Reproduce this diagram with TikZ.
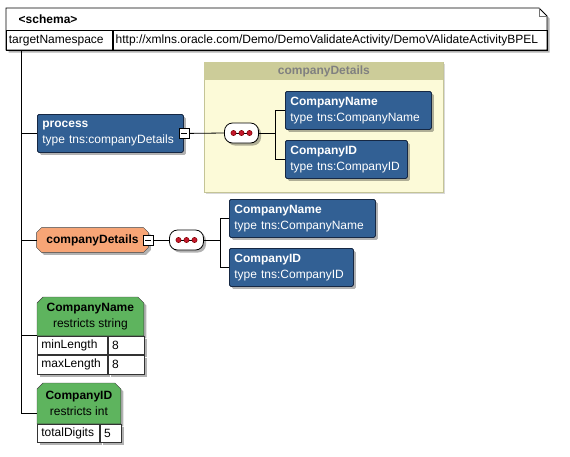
\documentclass[tikz,border=0pt]{standalone}
\usepackage{fontspec}
\setmainfont{Liberation Sans}
\usetikzlibrary{shapes, shadows, positioning, calc}

\definecolor{elemfill}{RGB}{50,96,148}
\definecolor{elemline}{RGB}{22,40,68}
\definecolor{cplxfill}{RGB}{247,165,118}
\definecolor{simpfill}{RGB}{94,180,94}
\definecolor{grpfill}{RGB}{252,250,216}
\definecolor{grphead}{RGB}{204,204,153}
\definecolor{grpline}{RGB}{196,196,150}
\definecolor{dotred}{RGB}{196,24,44}

\pgfdeclarelayer{bg}
\pgfsetlayers{bg,main}

\newcommand\dgfont{\fontsize{12}{16}\selectfont}

\begin{document}
\begin{tikzpicture}[x=1pt, y=-1pt, line width=.8pt,
  shade/.style={drop shadow={shadow xshift=2.5pt, shadow yshift=-2.5pt, opacity=.3, fill=black}},
  elem/.style={rectangle, draw=elemline, fill=elemfill, text=white, rounded corners=1.5pt,
    anchor=north west, inner xsep=5pt, inner ysep=0pt, minimum height=38pt, align=left,
    font=\dgfont, shade},
  cplx/.style={rectangle, font=\dgfont\bfseries, minimum width=111pt, minimum height=24pt,
    inner sep=1pt},
  simp/.style={rectangle, align=center, font=\dgfont, inner sep=1pt, anchor=north west},
  chamf/.style={fill=#1, draw=black!75, shade},
  cell/.style={rectangle, draw=black!80, fill=white, inner xsep=4pt, inner ysep=0pt,
    minimum height=18.5pt, align=left, font=\dgfont, shade},
  minus/.style={rectangle, draw=black, fill=white, minimum size=10pt, inner sep=0pt,
    line width=.6pt, path picture={\draw ([xshift=-3pt]path picture bounding box.center)
      -- ([xshift=3pt]path picture bounding box.center);}},
  seq/.style={rectangle, draw=black, fill=white, rounded corners=8pt, minimum width=34pt,
    minimum height=20pt, inner sep=0pt, shade},
  dot/.style={fill=dotred, draw=black!50!red, line width=.5pt},
  grp/.style={rectangle, draw=grpline, fill=grpfill, inner sep=0pt, anchor=north west,
    drop shadow={shadow xshift=2pt, shadow yshift=-2pt, opacity=.15, fill=black}},
  grphd/.style={rectangle, fill=grphead, inner sep=0pt, anchor=north west, text=black!50,
    font=\dgfont\bfseries},
  link/.style={draw=black, line width=.8pt}]

  \useasboundingbox (0,0) rectangle (570,456);

  % schema header
  \path[draw, fill=white, shade] (6,8) -- (539,8) -- (547,16) -- (547,50) -- (6,50) -- cycle;
  \draw[black!55, line width=.5pt] (539,8) -- (539,16) -- (547,16);
  \node[anchor=west, font=\dgfont\bfseries] (schema) at (15,19) {<schema>};
  \node[rectangle, draw, anchor=north west, minimum height=20pt, text width=101pt,
    inner xsep=2.5pt, inner ysep=0pt, font=\dgfont] (tns) at (6,30) {targetNamespace};
  \node[rectangle, draw, right=0pt of tns, minimum height=20pt, text width=429pt,
    inner xsep=2.5pt, inner ysep=0pt, font=\dgfont] (url)
    {http://xmlns.oracle.com/Demo/DemoValidateActivity/DemoVAlidateActivityBPEL};
  \coordinate (root) at ([xshift=15pt]tns.south west);

  % local complex type of process
  \node[grp, minimum width=239pt, minimum height=130pt] (grp) at (204,62) {};
  \node[grphd, minimum width=239pt, minimum height=18pt] (grpHead) at (grp.north west) {companyDetails};

  % element process
  \node[elem, text width=136pt] (proc) at (37,114) {\textbf{process}\\type tns:companyDetails};
  \node[minus] (procMin) at (proc.east) {};
  \node[seq] (seqA) at (241.5,133) {};
  \node[elem, text width=136pt] (nameA) at (285,91) {\textbf{CompanyName}\\type tns:CompanyName};
  \node[elem, text width=112pt] (idA) at (285,140) {\textbf{CompanyID}\\type tns:CompanyID};

  % complex type companyDetails
  \node[cplx] (cplx) at (92.5,240) {companyDetails};
  \node[minus] (cplxMin) at (cplx.east) {};
  \node[seq] (seqB) at (186.5,240) {};
  \node[elem, text width=136pt] (nameB) at (229,199) {\textbf{CompanyName}\\type tns:CompanyName};
  \node[elem, text width=114pt] (idB) at (229,248) {\textbf{CompanyID}\\type tns:CompanyID};

  % sequence dots
  \foreach \s in {seqA, seqB} {
    \draw[line width=.6pt] ([xshift=-8pt]\s.center) -- ([xshift=8pt]\s.center);
    \foreach \d in {-8,0,8}
      \filldraw[dot] ([xshift=\d pt]\s.center) circle (2.6);
  }

  % simple type CompanyName
  \node[simp, minimum width=106pt, minimum height=38pt] (cnHead) at (37,297)
    {\textbf{CompanyName}\\restricts\ string};
  \node[cell, text width=62pt, below=0pt of cnHead.south west, anchor=north west] (cnMin) {minLength};
  \node[cell, text width=28pt, right=0pt of cnMin] (cnMinV) {8};
  \node[cell, text width=62pt, below=0pt of cnMin.south west, anchor=north west] (cnMax) {maxLength};
  \node[cell, text width=28pt, right=0pt of cnMax] (cnMaxV) {8};

  % simple type CompanyID
  \node[simp, minimum width=83pt, minimum height=40pt] (ciHead) at (37,383)
    {\textbf{CompanyID}\\restricts\ int};
  \node[cell, text width=54pt, below=0pt of ciHead.south west, anchor=north west] (ciTot) {totalDigits};
  \node[cell, text width=13pt, right=0pt of ciTot] (ciTotV) {5};

  % chamfered outlines behind the type nodes
  \begin{pgfonlayer}{bg}
    \path[chamf=cplxfill] ([xshift=5pt]cplx.north west) -- ([xshift=-5pt]cplx.north east)
      -- ([yshift=-5pt]cplx.north east) -- ([yshift=5pt]cplx.south east)
      -- ([xshift=-5pt]cplx.south east) -- ([xshift=5pt]cplx.south west)
      -- ([yshift=5pt]cplx.south west) -- ([yshift=-5pt]cplx.north west) -- cycle;
    \foreach \h in {cnHead, ciHead}
      \path[chamf=simpfill] ([xshift=6pt]\h.north west) -- ([xshift=-6pt]\h.north east)
        -- ([yshift=-6pt]\h.north east) -- (\h.south east) -- (\h.south west)
        -- ([yshift=-6pt]\h.north west) -- cycle;
  \end{pgfonlayer}

  % connectors
  \coordinate (cnMid) at ($(cnHead.north west)!.5!(cnMax.south west)$);
  \coordinate (ciMid) at ($(ciHead.north west)!.5!(ciTot.south west)$);
  \draw[link] (root) |- (ciMid);
  \draw[link] (root |- proc.west) -- (proc.west);
  \draw[link] (root |- cplx.west) -- (cplx.west);
  \draw[link] (root |- cnMid) -- (cnMid);

  \draw[link] (procMin.east) -- (seqA.west);
  \coordinate (forkA) at ([xshift=16pt]seqA.east);
  \draw[link] (seqA.east) -- (forkA);
  \draw[link] (nameA.west) -| (forkA) |- (idA.west);

  \draw[link] (cplxMin.east) -- (seqB.west);
  \coordinate (forkB) at ([xshift=16pt]seqB.east);
  \draw[link] (seqB.east) -- (forkB);
  \draw[link] (nameB.west) -| (forkB) |- (idB.west);
\end{tikzpicture}
\end{document}
